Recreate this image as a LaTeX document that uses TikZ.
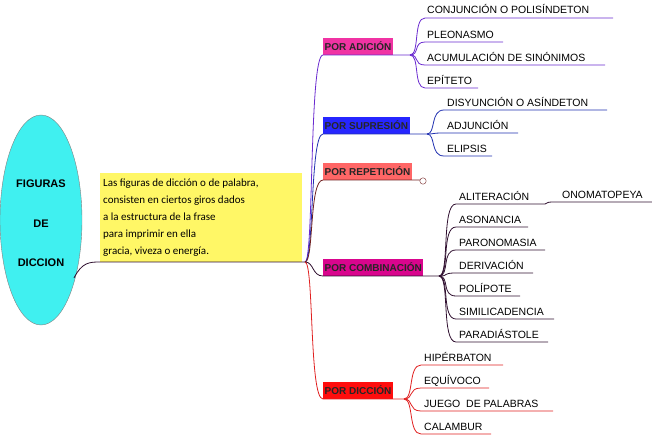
\documentclass[tikz,border=0pt]{standalone}
\usetikzlibrary{shapes.geometric,calc}
\usepackage{fontspec}
\setmainfont{Liberation Sans}
\newfontfamily\cfont{Carlito}
\begin{document}
\begin{tikzpicture}[x=1pt,y=-1pt,
  leaf/.style={anchor=base west,inner sep=0pt,font=\fontsize{10.5}{12}\selectfont},
  cat/.style={anchor=south west,inner sep=1.5pt,minimum height=17pt,font=\bfseries\fontsize{10}{12}\selectfont,text=black!85},
  con/.style={line width=0.8pt}]
\useasboundingbox (0,0) rectangle (652,436);
\definecolor{cy}{HTML}{40F0F0}
\definecolor{pu}{HTML}{6A2AD0}
\definecolor{bl}{HTML}{2030B0}
\definecolor{dk}{HTML}{301030}
\definecolor{rd}{HTML}{E02020}
\definecolor{br}{HTML}{702020}
% root
\node[ellipse,draw=gray,fill=cy,minimum width=82pt,minimum height=210pt,inner sep=0pt] (root) at (41,220) {};
\node[font=\bfseries\fontsize{11}{13}\selectfont] (t1) at (41,184) {FIGURAS};
\node[font=\bfseries\fontsize{11}{13}\selectfont] (t2) at (41,224) {DE};
\node[font=\bfseries\fontsize{11}{13}\selectfont] (t3) at (41,263) {DICCION};
% yellow
\fill[yellow!60] (100,173) rectangle (302,262);
\node[anchor=north west,align=left,inner sep=0pt,font=\cfont\fontsize{11}{17}\selectfont] (desc) at (103,179)
 {Las figuras de dicción o de palabra,\\consisten en ciertos giros dados\\a la estructura de la frase\\para imprimir en ella\\gracia, viveza o energía.};
\coordinate (hub) at (305,262);
\draw[con,dk] (74,278) .. controls (82,262) and (90,262) .. (100,262) -- (hub);
% categories
\node[cat,fill=magenta!80] (ad) at (323,55) {POR ADICIÓN};
\node[cat,fill=blue!85] (su) at (323,134) {POR SUPRESIÓN};
\node[cat,fill=red!60] (re) at (323,180) {POR REPETICIÓN};
\node[cat,fill=magenta!90!blue] (co) at (323,276) {POR COMBINACIÓN};
\node[cat,fill=red!95] (di) at (323,399) {POR DICCIÓN};
\draw[con,pu] (hub) .. controls (314,262) and (309,55) .. (ad.south west) -- (410,55) coordinate (adE);
\draw[con,bl] (hub) .. controls (314,262) and (310,134) .. (su.south west) -- (427,134) coordinate (suE);
\draw[con,br] (hub) .. controls (314,262) and (309,180) .. (re.south west) -- (420,180);
\draw[br,fill=white] (423,181) circle (3.2pt);
\draw[con,dk] (hub) .. controls (314,262) and (312,276) .. (co.south west) -- (439,276) coordinate (coE);
\draw[con,rd] (hub) .. controls (314,262) and (309,399) .. (di.south west) -- (404,399) coordinate (diE);
% children
\foreach \t/\y/\e in {CONJUNCIÓN O POLISÍNDETON/18/613,PLEONASMO/42/503,ACUMULACIÓN DE SINÓNIMOS/65/605,EPÍTETO/88/478}{
  \node[leaf] at (427,\y-4) {\t};
  \draw[con,pu] (adE) .. controls (420,55) and (413,\y) .. (425,\y) -- (\e,\y);}
\foreach \t/\y/\e in {DISYUNCIÓN O ASÍNDETON/110/607,ADJUNCIÓN/133/518,ELIPSIS/156/492}{
  \node[leaf] at (447,\y-4) {\t};
  \draw[con,bl] (suE) .. controls (436,134) and (430,\y) .. (444,\y) -- (\e,\y);}
\foreach \t/\y/\e in {ALITERACIÓN/204/545,ASONANCIA/227/528,PARONOMASIA/250/545,DERIVACIÓN/273/533,POLÍPOTE/296/520,SIMILICADENCIA/319/554,PARADIÁSTOLE/342/548}{
  \node[leaf] at (459,\y-4) {\t};
  \draw[con,dk] (coE) .. controls (450,276) and (441,\y) .. (456,\y) -- (\e,\y);}
\node[leaf] (ono) at (562,198) {ONOMATOPEYA};
\draw[con,dk] (545,204) .. controls (548,202) .. (556,202) -- (652,202);
\foreach \t/\y/\e in {HIPÉRBATON/365/503,EQUÍVOCO/388/489,JUEGO\ \ DE PALABRAS/411/553,CALAMBUR/434/491}{
  \node[leaf] at (424,\y-4) {\t};
  \draw[con,rd] (diE) .. controls (414,399) and (408,\y) .. (421,\y) -- (\e,\y);}
\end{tikzpicture}
\end{document}
